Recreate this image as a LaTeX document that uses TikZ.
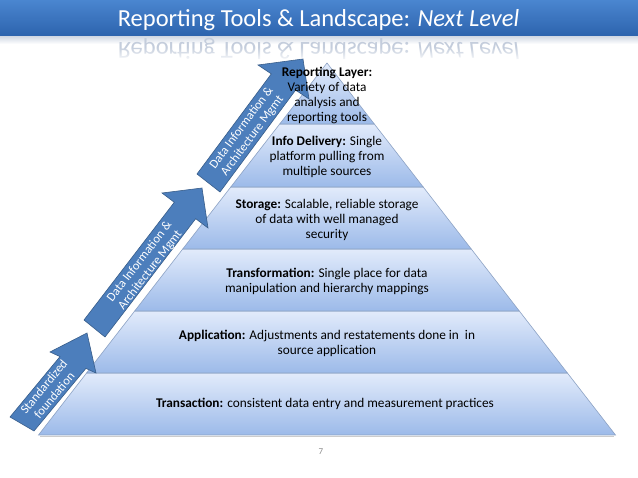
\documentclass[tikz,border=0pt]{standalone}
\usepackage{fontspec}
\setmainfont{Carlito}
\usepackage{graphicx}
\usetikzlibrary{fadings}
\tikzfading[name=myfade, top color=transparent!100, bottom color=transparent!0]
\definecolor{arrowblue}{RGB}{76,126,188}
\definecolor{arrowedge}{RGB}{56,93,138}
\definecolor{laytop}{RGB}{226,235,251}
\definecolor{laybot}{RGB}{156,186,233}
\definecolor{layedge}{RGB}{140,162,196}
\definecolor{bandtop}{RGB}{74,134,208}
\definecolor{bandbot}{RGB}{44,98,172}
\definecolor{reflcol}{RGB}{196,205,220}
\definecolor{pagegray}{RGB}{140,140,140}
\begin{document}
\begin{tikzpicture}[x=1pt,y=-1pt,
  layer/.style={top color=laytop, bottom color=laybot, draw=layedge, line width=0.6pt},
  blockarrow/.style={fill=arrowblue, draw=arrowedge, line width=0.6pt, line join=miter},
  laytext/.style={align=center, font=\fontsize{13.3}{15}\selectfont, text=black, inner sep=0pt},
  arrtext/.style={align=center, font=\fontsize{12.5}{13.5}\selectfont, text=white, inner sep=0pt},
  titletext/.style={anchor=base, font=\fontsize{24.5}{28}\selectfont, inner sep=0pt}
]
\useasboundingbox (0,0) rectangle (638,478);
\fill[white] (0,0) rectangle (638,478);
% title band
\shade[top color=bandtop, bottom color=bandbot] (0,0) rectangle (638,37);
\shade[top color=reflcol!70, bottom color=white] (0,37) rectangle (638,44);
\node[titletext, text=white] (title) at (318.5,27) {Reporting Tools \& Landscape: \textit{Next Level}};
\node[titletext, text=reflcol] (titlerefl) at (318.5,43) {\scalebox{1}[-1]{Reporting Tools \& Landscape: \textit{Next Level}}};
\fill[white, path fading=myfade] (0,47) rectangle (638,62);
% pyramid
\draw[black!20, line width=1.5pt] (40,436.5) -- (614,436.5);
\shadedraw[layer] (38.5,435) -- (615.5,435) -- (567.4,373) -- (86.6,373) -- cycle;
\shadedraw[layer] (86.6,373) -- (567.4,373) -- (519.3,311) -- (134.7,311) -- cycle;
\shadedraw[layer] (134.7,311) -- (519.3,311) -- (471.25,249) -- (182.75,249) -- cycle;
\shadedraw[layer] (182.75,249) -- (471.25,249) -- (423.2,187) -- (230.8,187) -- cycle;
\shadedraw[layer] (230.8,187) -- (423.2,187) -- (374.3,124) -- (279.7,124) -- cycle;
\shadedraw[layer] (279.7,124) -- (374.3,124) -- (327,63) -- cycle;
% block arrows
\draw[blockarrow] (10,417) -- (60,356.6) -- (50,352) -- (87,333) -- (96,373) -- (85.9,368.4) -- (34,431) -- cycle;
\draw[blockarrow] (84,320) -- (174.3,202.3) -- (162,193) -- (202,188) -- (208,228) -- (195.7,218.7) -- (105,337) -- cycle;
\draw[blockarrow] (197,174) -- (271.3,73.9) -- (258,65) -- (303,59) -- (309,99) -- (295.6,90.1) -- (220,192) -- cycle;
\node[arrtext, rotate=50.3] (a1txt) at (49,391) {Standardized\\foundation};
\node[arrtext, rotate=52.5] (a2txt) at (145,266) {Data Information \&\\Architecture Mgmt};
\node[arrtext, rotate=53.4] (a3txt) at (247,132) {Data Information \&\\Architecture Mgmt};
% layer texts
\node[laytext] (l6) at (327,95) {\textbf{Reporting Layer:}\\Variety of data\\analysis and\\reporting tools};
\node[laytext] (l5) at (327,157) {\textbf{Info Delivery:} Single\\platform pulling from\\multiple sources};
\node[laytext] (l4) at (327,219.5) {\textbf{Storage:} Scalable, reliable storage\\of data with well managed\\security};
\node[laytext] (l3) at (327,281) {\textbf{Transformation:} Single place for data\\manipulation and hierarchy mappings};
\node[laytext] (l2) at (327,343.5) {\textbf{Application:} Adjustments and restatements done in\ \ in\\source application};
\node[laytext] (l1) at (325,404) {\textbf{Transaction:} consistent data entry and measurement practices};
\node[text=pagegray, font=\fontsize{9}{10}\selectfont, inner sep=0pt] (pg) at (321,452) {7};
\end{tikzpicture}
\end{document}
